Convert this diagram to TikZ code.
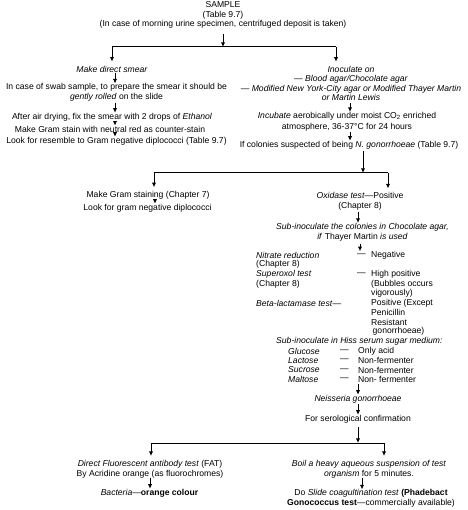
\documentclass[tikz,border=0pt]{standalone}
\usepackage{fontspec}
\setmainfont{Liberation Sans}
\usetikzlibrary{arrows.meta}
\begin{document}
\begin{tikzpicture}[x=1pt,y=-1pt,
  txt/.style={font=\fontsize{8.6}{9.6}\selectfont, inner sep=0pt, align=center},
  ltxt/.style={font=\fontsize{8.6}{9.6}\selectfont, inner sep=0pt, anchor=west, align=left},
  arr/.style={line width=1pt, -{Latex[length=4.6pt,width=4.2pt]}},
  ln/.style={line width=1pt}]
\useasboundingbox (0,0) rectangle (467,510);

% ---------- top ----------
\node[txt] (sample) at (223,15) {SAMPLE\\(Table 9.7)\\(In case of morning urine specimen, centrifuged deposit is taken)};
\coordinate (b1) at (223,47);
\coordinate (cL) at (112,0);
\coordinate (cR) at (336,0);

% ---------- left column ----------
\node[txt] (smear) at (112,69) {\textit{Make direct smear}};
\node[txt] (swab) at (116.5,92.5) {In case of swab sample, to prepare the smear it should be\\\textit{gently rolled} on the slide};
\node[txt] (airdry) at (112,117) {After air drying, fix the smear with 2 drops of \textit{Ethanol}};
\node[txt] (gram) at (110,129) {Make Gram stain with neutral red as counter-stain};
\node[txt] (look) at (116.5,141) {Look for resemble to Gram negative diplococci (Table 9.7)};
\coordinate (c2) at (115,0);

% ---------- right column top ----------
\node[txt] (inoc) at (351,83.5) {\textit{Inoculate on}\\\textit{--- Blood agar/Chocolate agar}\\\textit{--- Modified New York-City agar or Modified Thayer Martin}\\\textit{or Martin Lewis}};
\node[txt] (incub) at (347,121.5) {\textit{Incubate} aerobically under moist CO\textsubscript{2} enriched\\[1pt]atmosphere, 36-37\textdegree C for 24 hours};
\node[txt] (colon) at (349,145) {If colonies suspected of being \textit{N. gonorrhoeae} (Table 9.7)};
\coordinate (c3) at (350,0);
\coordinate (c4) at (363,0);
\coordinate (b2) at (363,173);
\coordinate (cL2) at (154,0);
\coordinate (cR2) at (388,0);

% ---------- middle left ----------
\node[txt] (gs) at (148,195.5) {Make Gram staining (Chapter 7)};
\node[txt] (lgn) at (147.5,208) {Look for gram negative diplococci};
\coordinate (c5) at (155,0);

% ---------- middle right ----------
\node[txt] (oxi) at (360,201.5) {\textit{Oxidase test}---Positive\\(Chapter 8)};
\node[txt] (subi) at (362.5,232) {\textit{Sub-inoculate the colonies in Chocolate agar,}\\\textit{if} Thayer Martin \textit{is used}};
\coordinate (c6) at (358,0);
\coordinate (c7) at (360,0);

% table
\node[ltxt] (t1) at (256,255) {\textit{Nitrate reduction}};
\node[ltxt] (t1b) at (256,264) {(Chapter 8)};
\node[ltxt] (d1) at (357,255.5) {---};
\node[ltxt] (v1) at (371,255) {Negative};
\node[ltxt] (t2) at (256,274.5) {\textit{Superoxol test}};
\node[ltxt] (t2b) at (256,284) {(Chapter 8)};
\node[ltxt] (d2) at (357,274.5) {---};
\node[ltxt] (v2) at (371,274.5) {High positive};
\node[ltxt] (v2b) at (371,284) {(Bubbles occurs};
\node[ltxt] (v2c) at (371,293.5) {vigorously)};
\node[ltxt] (t3) at (256,303) {\textit{Beta-lactamase test}---};
\node[ltxt] (v3) at (371,303) {Positive (Except};
\node[ltxt] (v3b) at (371,312.5) {Penicillin};
\node[ltxt] (v3c) at (371,322) {Resistant};
\node[ltxt] (v3d) at (372.5,331.5) {gonorrhoeae)};
\node[ltxt] (hiss) at (276,341.5) {\textit{Sub-inoculate in Hiss serum sugar medium:}};
\node[ltxt] (s1) at (288,351) {\textit{Glucose}};
\node[ltxt] (s2) at (288,360.5) {\textit{Lactose}};
\node[ltxt] (s3) at (288,370) {\textit{Sucrose}};
\node[ltxt] (s4) at (288,379.5) {\textit{Maltose}};
\node[ltxt] (e1) at (340,351) {---};
\node[ltxt] (e2) at (340,360.5) {---};
\node[ltxt] (e3) at (340,370) {---};
\node[ltxt] (e4) at (340,379.5) {---};
\node[ltxt] (r1) at (358,351) {Only acid};
\node[ltxt] (r2) at (358,360.5) {Non-fermenter};
\node[ltxt] (r3) at (358,370) {Non-fermenter};
\node[ltxt] (r4) at (358,379.5) {Non- fermenter};

\node[txt] (neis) at (358,399) {\textit{Neisseria gonorrhoeae}};
\node[txt] (sero) at (358,419) {For serological confirmation};
\coordinate (b3) at (358,443);
\coordinate (cL3) at (151,0);
\coordinate (cR3) at (384,0);

% ---------- bottom ----------
\node[txt] (fat) at (150,469) {\textit{Direct Fluorescent antibody test} (FAT)\\By Acridine orange (as fluorochromes)};
\node[txt] (bact) at (149.5,493) {\textit{Bacteria}---\textbf{orange colour}};
\node[txt] (boil) at (369,469) {\textit{Boil a heavy aqueous suspension of test}\\\textit{organism} for 5 minutes.};
\node[txt] (slide) at (371,498.5) {Do \textit{Slide coagultination test} \textbf{(Phadebact}\\\textbf{Gonococcus test}---commercially available)};
\coordinate (c8) at (150,0);
\coordinate (c9) at (362,0);

% ---------- connectors ----------
\draw[arr] ([yshift=-5pt]sample.south) -- (b1);
\draw[ln] (b1 -| cL) -- (b1 -| cR);
\draw[arr] (b1 -| cL) -- ([yshift=4pt]smear.north -| cL);
\draw[arr] (b1 -| cR) -- ([yshift=4pt]inoc.north -| cR);

\draw[arr] ([yshift=-1pt]smear.south -| c2) -- (swab.north -| c2);
\draw[arr] ([yshift=-1pt]swab.south -| c2) -- (airdry.north -| c2);
\draw[arr] (airdry.south -| c2) -- (gram.north -| c2);
\draw[arr] (gram.south -| c2) -- (look.north -| c2);

\draw[arr] ([yshift=-2pt]inoc.south -| c3) -- (incub.north -| c3);
\draw[arr] ([yshift=-1pt]incub.south -| c3) -- (colon.north -| c3);
\draw[arr] ([yshift=-2pt]colon.south -| c4) -- (b2);
\draw[ln] (b2 -| cL2) -- (b2 -| cR2);
\draw[arr] (b2 -| cL2) -- ([yshift=4pt]gs.north -| cL2);
\draw[arr] (b2 -| cR2) -- ([yshift=4pt]oxi.north -| cR2);

\draw[arr] (gs.south -| c5) -- (lgn.north -| c5);
\draw[arr] ([yshift=-1pt]oxi.south -| c6) -- (subi.north -| c6);
\draw[arr] ([yshift=-2.5pt]subi.south -| c7) -- ([yshift=-0.5pt]v1.north -| c7);

\draw[arr] ([yshift=-1pt]s4.south -| c6) -- (neis.north -| c6);
\draw[arr] ([yshift=-1pt]neis.south -| c6) -- (sero.north -| c6);
\draw[arr] ([yshift=-4pt]sero.south -| b3) -- (b3);
\draw[ln] (b3 -| cL3) -- (b3 -| cR3);
\draw[arr] (b3 -| cL3) -- ([yshift=4pt]fat.north -| cL3);
\draw[arr] (b3 -| cR3) -- ([yshift=4pt]boil.north -| cR3);
\draw[arr] (fat.south -| c8) -- (bact.north -| c8);
\draw[arr] (boil.south -| c9) -- (slide.north -| c9);
\end{tikzpicture}
\end{document}
